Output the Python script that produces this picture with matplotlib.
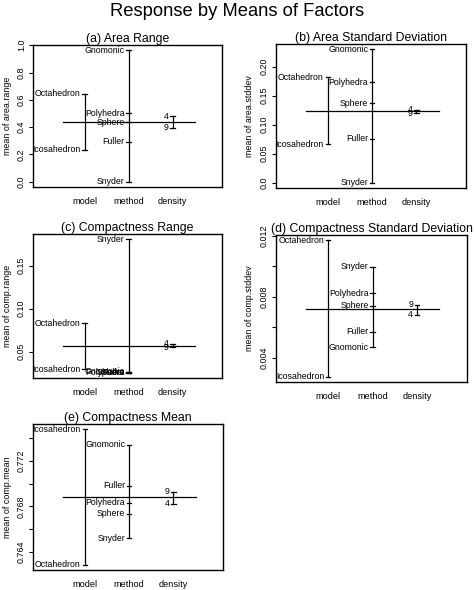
import numpy as np
import matplotlib
matplotlib.use("Agg")
import matplotlib.pyplot as plt

plt.rcParams['font.family'] = ['Liberation Sans', 'DejaVu Sans']

# factor levels
model_levels = ["Icosahedron", "Octahedron"]
method_levels = ["Fuller", "Gnomonic", "Polyhedra", "Snyder", "Sphere"]
density_levels = ["4", "9"]
factor_names = ["model", "method", "density"]

# (a) area range
area_range_model = [0.235, 0.645]
area_range_method = [0.294, 0.963, 0.502, 0.0, 0.436]
area_range_density = [0.478, 0.395]
area_range_mean = 0.438

# (b) area stddev
area_sd_model = [0.0663, 0.1815]
area_sd_method = [0.0756, 0.2297, 0.1728, 0.0, 0.1372]
area_sd_density = [0.1255, 0.1200]
area_sd_mean = 0.1228

# (c) compactness range
comp_range_model = [0.0296, 0.0829]
comp_range_method = [0.0254, 0.0262, 0.0258, 0.1806, 0.0255]
comp_range_density = [0.0588, 0.0548]
comp_range_mean = 0.0566

# (d) compactness stddev
comp_sd_model = [0.00275, 0.01169]
comp_sd_method = [0.0057, 0.00467, 0.00822, 0.00996, 0.0074]
comp_sd_density = [0.00681, 0.00748]
comp_sd_mean = 0.00720

# (e) compactness mean
comp_mean_model = [0.77477, 0.76287]
comp_mean_method = [0.76979, 0.77343, 0.7683, 0.76517, 0.76735]
comp_mean_density = [0.76824, 0.76929]
comp_mean_mean = 0.76882

panels = [
    ("(a) Area Range", "mean of area.range",
     [area_range_model, area_range_method, area_range_density], area_range_mean,
     [0.0, 0.2, 0.4, 0.6, 0.8, 1.0], ["0.0", "0.2", "0.4", "0.6", "0.8", "1.0"]),
    ("(b) Area Standard Deviation", "mean of area.stddev",
     [area_sd_model, area_sd_method, area_sd_density], area_sd_mean,
     [0.0, 0.05, 0.10, 0.15, 0.20], ["0.0", "0.05", "0.10", "0.15", "0.20"]),
    ("(c) Compactness Range", "mean of comp.range",
     [comp_range_model, comp_range_method, comp_range_density], comp_range_mean,
     [0.05, 0.10, 0.15], ["0.05", "0.10", "0.15"]),
    ("(d) Compactness Standard Deviation", "mean of comp.stddev",
     [comp_sd_model, comp_sd_method, comp_sd_density], comp_sd_mean,
     [0.004, 0.006, 0.008, 0.010, 0.012], ["0.004", "", "0.008", "", "0.012"]),
    ("(e) Compactness Mean", "mean of comp.mean",
     [comp_mean_model, comp_mean_method, comp_mean_density], comp_mean_mean,
     [0.764, 0.766, 0.768, 0.770, 0.772, 0.774], ["0.764", "", "0.768", "", "0.772", ""]),
]
level_names = [model_levels, method_levels, density_levels]

W, H = 474, 590
# axes boxes in pixels: left, top, right, bottom
boxes = [(33, 45, 222, 187), (276, 44, 466, 188), (33, 234, 222, 378),
         (276, 235, 467, 382), (33, 424, 223, 570)]
title_pad = [2, 2, 0, 0, 2]

fig = plt.figure(figsize=(W / 100, H / 100), dpi=100)
fig.text(0.5, 1 - 11 / H, "Response by Means of Factors", ha='center', va='center', fontsize=13.2)

lw = 0.9
for k, (title, ylab, groups, gmean, yt, ytl) in enumerate(panels):
    l, t, r, b = boxes[k]
    ax = fig.add_axes([l / W, 1 - b / H, (r - l) / W, (b - t) / H])
    allv = np.concatenate([np.asarray(g) for g in groups])
    lo, hi = allv.min(), allv.max()
    ext = 0.04 * (hi - lo)
    ax.set_ylim(lo - ext, hi + ext)
    ax.set_xlim(-0.17, 4.12)

    # grand mean line
    ax.plot([0.5, 3.5], [gmean, gmean], color='black', lw=lw)
    for i, (vals, names) in enumerate(zip(groups, level_names)):
        x = i + 1
        ax.plot([x, x], [min(vals), max(vals)], color='black', lw=lw)
        for v, nm in zip(vals, names):
            ax.plot([x - 0.05, x + 0.05], [v, v], color='black', lw=lw)
            ax.text(x - 0.09, v, nm, ha='right', va='center', fontsize=6.3, clip_on=True)

    ax.set_xticks([1, 2, 3])
    ax.set_xticklabels(factor_names, fontsize=6.6)
    ax.tick_params(axis='x', length=0, pad=7)
    ax.set_yticks(yt)
    ax.set_yticklabels(ytl, rotation=90, va='center', fontsize=6.4)
    ax.tick_params(axis='y', length=3, width=0.8, pad=2)
    ax.set_ylabel(ylab, fontsize=6.4, labelpad=4)
    for s in ax.spines.values():
        s.set_linewidth(1.0)
    ax.set_title(title, fontsize=8.8, pad=title_pad[k])

fig.savefig("out.png", dpi=100)
